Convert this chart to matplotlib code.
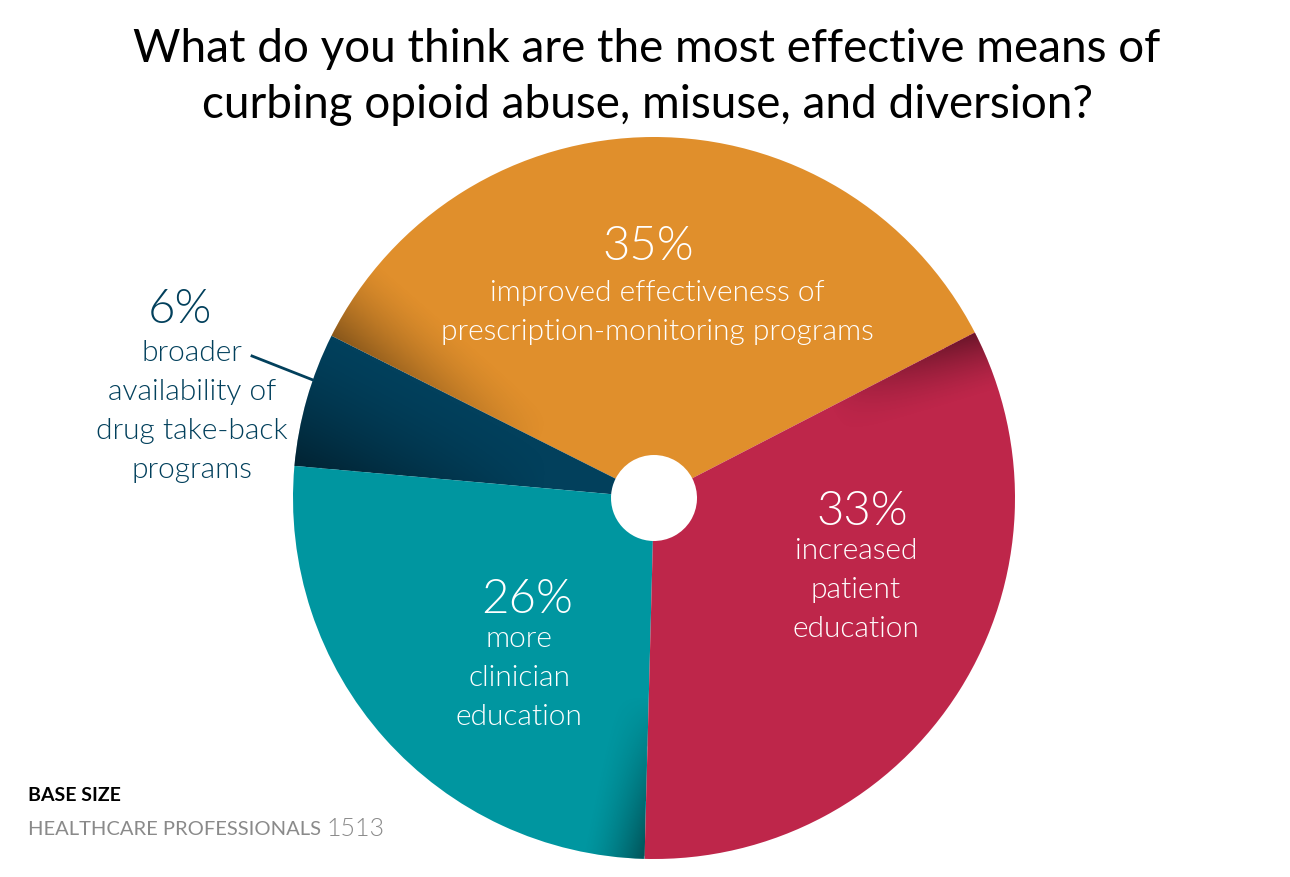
import numpy as np
import matplotlib.pyplot as plt

# ── Data ──────────────────────────────────────────────────────────────────────
shares = [35, 6, 26, 33]
pct_labels = ['35%', '6%', '26%', '33%']
descriptions = [
    'improved effectiveness of\nprescription-monitoring programs',
    'broader\navailability of\ndrug take-back\nprograms',
    'more\nclinician\neducation',
    'increased\npatient\neducation',
]
colors = ['#E08F2C', '#02405C', '#0096A0', '#BE264A']
base_label = 'HEALTHCARE PROFESSIONALS'
base_n = '1513'

# ── Canvas (data units = pixels, y measured from top via H - y) ───────────────
W, H = 1290, 878
fig = plt.figure(figsize=(W / 100, H / 100), dpi=100, facecolor='white')
ax = fig.add_axes([0, 0, 1, 1])
FONT = ['Lato', 'DejaVu Sans']

cx, cy, R, r_hole = 654, H - 499, 361, 43
start = 27.3

wedges, _ = ax.pie(shares, colors=colors, startangle=start, counterclock=True,
                   center=(cx, cy), radius=R, frame=False,
                   wedgeprops=dict(width=R - r_hole, linewidth=0))

# ── Fold shadows: black gradient images clipped to a wedge ───────────────────
bounds = [start]
for s in shares:
    bounds.append(bounds[-1] + s * 3.6)

gx = np.linspace(cx - R, cx + R, 500)
gy = np.linspace(cy - R, cy + R, 500)
GX, GY = np.meshgrid(gx, gy)
ANG = np.degrees(np.arctan2(GY - cy, GX - cx)) % 360
RAD = np.hypot(GX - cx, GY - cy) / R

def shade(wedge, edge, span, amax, r0, gamma=1.5):
    # distance (deg) from the border, measured into the slice (clockwise)
    d = (edge - ANG) % 360
    a = np.clip(1 - d / span, 0, 1) ** gamma
    a *= np.clip((RAD - r0) / (1 - r0), 0, 1)
    img = np.zeros(GX.shape + (4,))
    img[..., 3] = amax * a
    im = ax.imshow(img, extent=(gx[0], gx[-1], gy[0], gy[-1]), origin='lower',
                   zorder=2, interpolation='bilinear')
    im.set_clip_path(wedge)

shade(wedges[0], bounds[1] % 360, 14, 0.40, 0.35)   # orange toward navy
shade(wedges[3], bounds[0] % 360, 10, 0.45, 0.55)   # red toward orange
shade(wedges[1], bounds[2] % 360, 22, 0.45, 0.30)   # navy toward teal
shade(wedges[2], bounds[3] % 360, 10, 0.45, 0.55)   # teal toward red

ax.set_xlim(0, W)
ax.set_ylim(0, H)
ax.set_aspect('equal')
ax.axis('off')

# ── Title ─────────────────────────────────────────────────────────────────────
ax.text(W / 2 + 2, H - 77, 'What do you think are the most effective means of\n'
        'curbing opioid abuse, misuse, and diversion?',
        ha='center', va='center', fontsize=33, color='black', family=FONT,
        linespacing=1.42, zorder=5)

# ── Slice labels ──────────────────────────────────────────────────────────────
big = dict(fontsize=34, fontweight=300, family=FONT, ha='center', va='center',
           zorder=5)
small = dict(fontsize=21.5, fontweight=300, family=FONT, ha='center', va='top',
             linespacing=1.62, zorder=5)

ax.text(648, H - 247, pct_labels[0], color='white', **big)
ax.text(657, H - 280, descriptions[0], color='white', **small)

ax.text(862, H - 512, pct_labels[3], color='white', **big)
ax.text(856, H - 538, descriptions[3], color='white', **small)

ax.text(527, H - 600, pct_labels[2], color='white', **big)
ax.text(519, H - 626, descriptions[2], color='white', **small)

ax.text(180, H - 310, pct_labels[1], color=colors[1], **big)
ax.text(192, H - 340, descriptions[1], color=colors[1], **small)
ax.plot([252, 313], [H - 357, H - 381], color=colors[1], lw=2)

# ── Base size note ────────────────────────────────────────────────────────────
ax.text(28, H - 796, 'BASE SIZE', fontsize=14, fontweight='bold', family=FONT,
        color='black', ha='left', va='center')
t = ax.text(28, H - 830, base_label + ' ', fontsize=14.5, family=FONT,
            color='#8a8a8a', ha='left', va='center')
fig.canvas.draw()
bb = t.get_window_extent().transformed(ax.transData.inverted())
ax.text(bb.x1, H - 829, base_n, fontsize=18, fontweight=300, family=FONT,
        color='#8a8a8a', ha='left', va='center')

plt.savefig('out.png', dpi=100, facecolor='white')
